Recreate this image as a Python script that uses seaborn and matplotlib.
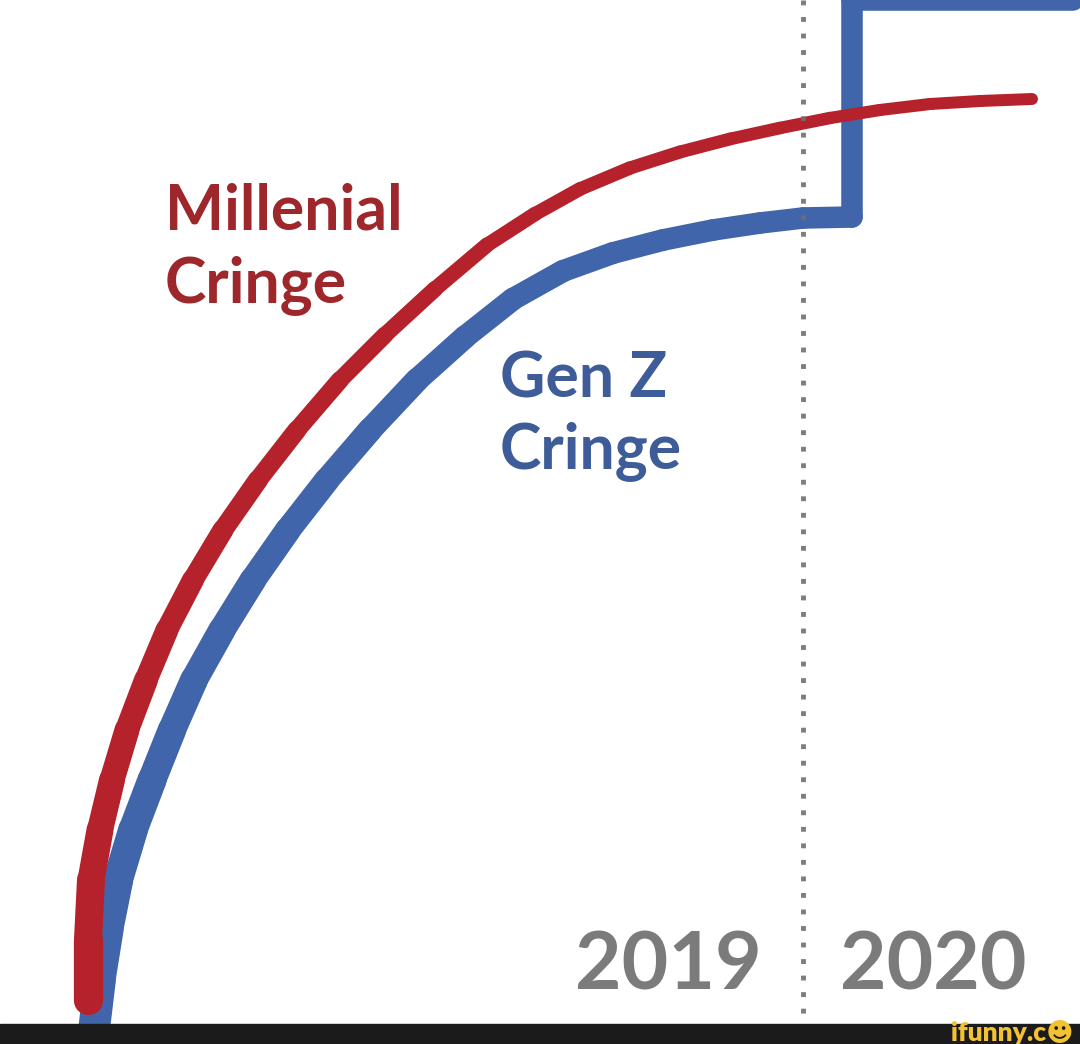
import matplotlib
matplotlib.use("Agg")
import numpy as np
import pandas as pd
import seaborn as sns
import matplotlib.pyplot as plt

# curves (x to the right, y downwards, pixel-like units)
red_x = [88, 88, 91, 100, 112, 127, 146, 167, 193, 223, 258, 297, 340, 385, 435,
         487, 535, 580, 630, 680, 730, 780, 830, 880, 930, 980, 1032]
red_y = [1000, 940, 880, 830, 780, 730, 680, 630, 580, 530, 480, 430, 380, 335, 289,
         245, 214, 189, 168, 152, 139, 128, 118, 110, 104, 101, 99]

blue_x = [94, 100, 108, 118, 133, 152, 172, 194, 222, 253, 288, 327, 370, 417, 465,
          513, 563, 613, 663, 713, 760, 803, 852, 852, 1073]
blue_y = [1030, 980, 930, 880, 830, 780, 730, 680, 630, 580, 530, 480, 430, 380, 337,
          299, 271, 253, 240, 230, 223, 218, 217, 0, 0]

red_label = ["Millenial", "Cringe"]
blue_label = ["Gen Z", "Cringe"]
years = ["2019", "2020"]
split_x = 803

RED = "#b5222b"
BLUE = "#4165aa"


def segments(xs, ys, w_top, w_bot, y_top, y_bot):
    # split line into segments so the stroke can taper like a marker drawing
    rows = []
    for i in range(len(xs) - 1):
        ym = (ys[i] + ys[i + 1]) / 2
        t = np.clip((ym - y_top) / (y_bot - y_top), 0, 1)
        w = w_top + (w_bot - w_top) * t
        rows.append((xs[i], ys[i], i, w))
        rows.append((xs[i + 1], ys[i + 1], i, w))
    return pd.DataFrame(rows, columns=["x", "y", "seg", "w"])


sns.set_theme(style="white")
plt.rcParams["font.family"] = ["Lato", "DejaVu Sans"]

fig = plt.figure(figsize=(10.8, 10.44), dpi=100)
ax = fig.add_axes([0, 0, 1, 1])

blue_df = segments(blue_x, blue_y, 15.5, 23, 217, 1024)
sns.lineplot(data=blue_df, x="x", y="y", units="seg", estimator=None, size="w",
             sizes=(blue_df.w.min(), blue_df.w.max()), color=BLUE, sort=False,
             legend=False, ax=ax, solid_capstyle="round", solid_joinstyle="round",
             clip_on=False)

red_df = segments(red_x, red_y, 8.6, 21.5, 99, 1000)
sns.lineplot(data=red_df, x="x", y="y", units="seg", estimator=None, size="w",
             sizes=(red_df.w.min(), red_df.w.max()), color=RED, sort=False,
             legend=False, ax=ax, solid_capstyle="round", solid_joinstyle="round")

# dotted divider between the years
ax.plot([split_x, split_x], [0, 1018], ls=(0, (1, 2.4)), lw=3.5, color="#6f6f6f",
        dash_capstyle="butt", alpha=0.9, zorder=4)

for i, line in enumerate(red_label):
    ax.text(165, 230 + 72 * i, line, color="#9e272c", fontsize=45,
            fontweight="bold", ha="left", va="baseline")
for i, line in enumerate(blue_label):
    ax.text(500, 397 + 71 * i, line, color="#3d5c98", fontsize=45,
            fontweight="bold", ha="left", va="baseline")

ax.text(668, 990, years[0], color="#7b7b7b", fontsize=58, fontweight="bold",
        ha="center", va="baseline")
ax.text(933, 990, years[1], color="#7b7b7b", fontsize=58, fontweight="bold",
        ha="center", va="baseline")

# watermark bar
ax.axhspan(1024, 1044, color="#1b1b1c", zorder=5)
ax.text(1074, 1041, "ifunny.c\u263b", color="#f2c233", fontsize=19, fontweight="heavy",
        ha="right", va="baseline", zorder=6)

ax.set_xlim(0, 1080)
ax.set_ylim(1044, 0)
ax.axis("off")

fig.savefig("out.png", dpi=100, facecolor="white")
